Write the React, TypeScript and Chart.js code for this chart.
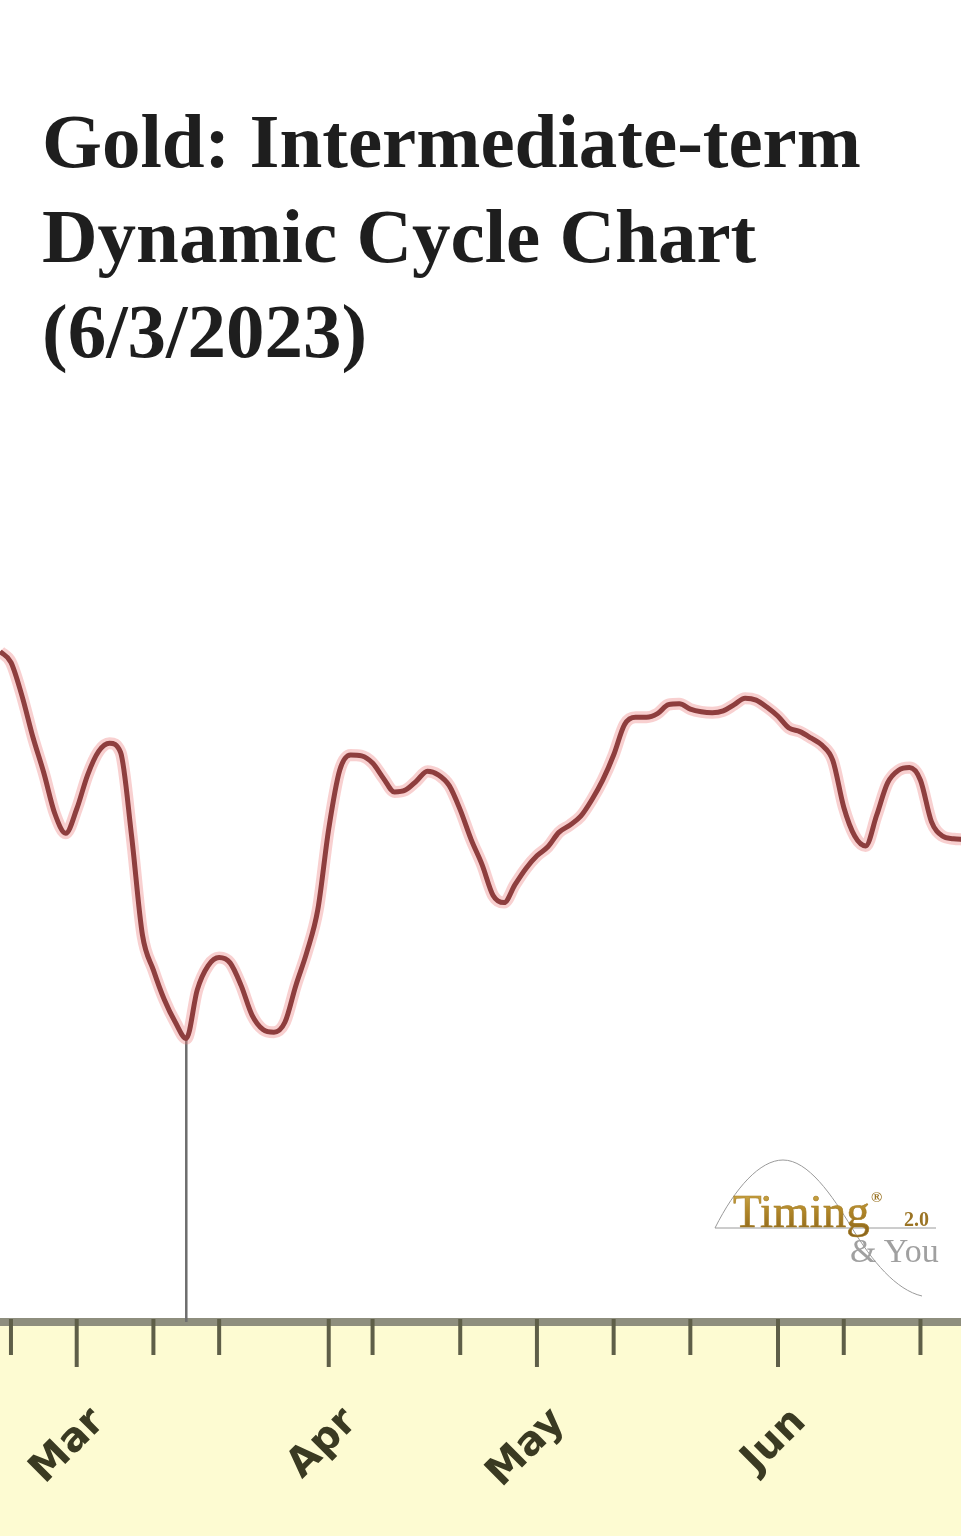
import React, { useEffect, useRef } from 'react';
import { Chart, registerables } from 'chart.js';

Chart.register(...registerables);

const TITLE_LINES = ['Gold: Intermediate-term', 'Dynamic Cycle Chart', '(6/3/2023)'];

// trading-day index (0 = 1 Mar 2023)
const tradingDays = [
  -7, -6, -5, -4, -3, -2, -1, 0, 1, 2, 3, 4, 5, 6, 7, 8, 9, 10, 11, 12, 13, 14,
  15, 16, 17, 18, 19, 20, 21, 22, 23, 24, 25, 26, 27, 28, 29, 30, 31, 32, 33, 34,
  35, 36, 37, 38, 39, 40, 41, 42, 43, 44, 45, 46, 47, 48, 49, 50, 51, 52, 53, 54,
  55, 56, 57, 58, 59, 60, 61, 62, 63, 64, 65, 66, 67, 68, 69, 70, 71, 72, 73, 74,
  75, 76, 77, 78, 79, 80, 81,
];

const cycleValues = [
  74.5, 73.3, 69.6, 65.0, 61.0, 56.5, 54.3, 57.0, 60.8, 63.4, 64.3, 63.3, 54.1, 43.0,
  39.1, 35.8, 33.3, 31.5, 36.9, 39.6, 40.5, 39.9, 37.4, 34.1, 32.5, 32.2, 33.3, 37.4,
  41.1, 45.8, 54.8, 61.3, 63.0, 62.9, 62.1, 60.4, 58.9, 59.1, 60.1, 61.2, 60.8, 59.6,
  56.9, 53.6, 50.8, 47.4, 46.6, 48.6, 50.4, 51.8, 52.8, 54.4, 55.2, 56.2, 58.0, 60.2,
  63.0, 66.4, 67.2, 67.2, 67.6, 68.6, 68.7, 68.1, 67.8, 67.7, 67.9, 68.6, 69.3, 69.1,
  68.3, 67.3, 66.0, 65.6, 64.9, 64.1, 62.4, 57.2, 54.0, 52.9, 56.3, 59.9, 61.3, 61.6,
  60.2, 55.6, 54.0, 53.7, 53.6,
];

// axis ticks: 1st, ~10th and ~20th of each month (trading-day index)
const tickDays = [-6, 0, 7, 13, 23, 27, 35, 42, 49, 56, 64, 70, 77];
const monthTickDays = [0, 23, 42, 64];
const monthLabels = ['Mar', 'Apr', 'May', 'Jun'];
const cycleLowDay = 10;

const tickMarks = {
  id: 'tickMarks',
  afterDatasetsDraw(chart: any) {
    const s = chart.scales.x;
    const ctx = chart.ctx;
    ctx.save();
    ctx.strokeStyle = '#5e5e48';
    ctx.lineWidth = 4;
    s.ticks.forEach((t: any) => {
      const px = s.getPixelForValue(t.value);
      const len = t.major ? 45 : 33;
      ctx.beginPath();
      ctx.moveTo(px, s.top - 3);
      ctx.lineTo(px, s.top + len);
      ctx.stroke();
    });
    ctx.restore();
  },
};

function Logo() {
  return (
    <svg
      width={261}
      height={150}
      viewBox="0 0 261 150"
      style={{ position: 'absolute', left: 700, top: 1150 }}
    >
      <defs>
        <linearGradient id="gold" x1="0" y1="0" x2="0" y2="1">
          <stop offset="0" stopColor="#d6b454" />
          <stop offset="0.5" stopColor="#b08628" />
          <stop offset="1" stopColor="#86601a" />
        </linearGradient>
      </defs>
      <line x1={15} y1={78} x2={236} y2={78} stroke="#9a9a9a" strokeWidth={1} />
      <path
        d="M15,78 C35,38 60,10 83,10 C108,10 132,45 152,78 C172,111 196,140 222,146"
        fill="none"
        stroke="#9a9a9a"
        strokeWidth={1}
      />
      <text x={33} y={77} fontFamily="Liberation Serif" fontSize={47} fill="url(#gold)" stroke="#a57d25" strokeWidth={0.6}>
        Timing
      </text>
      <text x={171} y={52} fontFamily="Liberation Serif" fontSize={15} fontWeight="bold" fill="#9b7424">
        ®
      </text>
      <text x={204} y={76} fontFamily="Liberation Serif" fontSize={20} fontWeight="bold" fill="#9b7424">
        2.0
      </text>
      <text x={150} y={112} fontFamily="Liberation Serif" fontSize={34} fill="#a0a0a0">
        &amp; You
      </text>
    </svg>
  );
}

export default function App() {
  const ref = useRef<HTMLCanvasElement | null>(null);

  useEffect(() => {
    if (!ref.current) return;
    const points = tradingDays.map((d, i) => ({ x: d, y: cycleValues[i] }));
    const lowVal = cycleValues[tradingDays.indexOf(cycleLowDay)];
    const chart = new Chart(ref.current, {
      type: 'line',
      data: {
        datasets: [
          {
            label: 'low',
            data: [
              { x: cycleLowDay, y: lowVal },
              { x: cycleLowDay, y: 0 },
            ],
            borderColor: '#6e6e6e',
            borderWidth: 2.5,
            pointRadius: 0,
            order: 3,
          },
          {
            label: 'glow',
            data: points,
            borderColor: 'rgba(236,120,120,0.35)',
            borderWidth: 12,
            pointRadius: 0,
            cubicInterpolationMode: 'monotone',
            order: 2,
          },
          {
            label: 'cycle',
            data: points,
            borderColor: '#8e3e3e',
            borderWidth: 5,
            pointRadius: 0,
            cubicInterpolationMode: 'monotone',
            order: 1,
          },
        ],
      },
      options: {
        animation: false,
        responsive: true,
        maintainAspectRatio: false,
        layout: { autoPadding: false, padding: { top: 422, left: 0, right: 0, bottom: 0 } },
        plugins: {
          legend: { display: false },
          tooltip: { enabled: false },
          title: { display: false },
        },
        scales: {
          x: {
            type: 'linear',
            min: -7,
            max: 80.7,
            afterBuildTicks: (s: any) => {
              s.ticks = tickDays.map((v) => ({ value: v, major: monthTickDays.includes(v) }));
            },
            afterFit: (s: any) => {
              s.height = 214;
              s.paddingLeft = 0;
              s.paddingRight = 0;
            },
            grid: {
              drawOnChartArea: false,
              drawTicks: true,
              tickLength: 45,
              tickColor: 'rgba(0,0,0,0)',
            },
            border: { display: true, color: '#8e8e7e', width: 8 },
            ticks: {
              autoSkip: false,
              maxRotation: 45,
              minRotation: 45,
              padding: 32,
              labelOffset: 22,
              color: '#3a3a22',
              font: { family: 'DejaVu Sans', weight: 'bold', size: 40 },
              callback: (v: any) => {
                const k = monthTickDays.indexOf(Number(v));
                return k >= 0 ? monthLabels[k] : '';
              },
            },
          },
          y: { display: false, min: 0, max: 100 },
        },
      },
      plugins: [tickMarks],
    } as any);
    return () => chart.destroy();
  }, []);

  return (
    <div
      style={{
        position: 'absolute',
        left: 0,
        top: 0,
        width: 961,
        height: 1536,
        overflow: 'hidden',
        background: 'linear-gradient(to bottom, #ffffff 0px, #ffffff 1322px, #fdfbd2 1322px, #fdfbd2 1536px)',
      }}
    >
      <canvas ref={ref} style={{ position: 'absolute', left: 0, top: 0 }} />
      <div
        style={{
          position: 'absolute',
          left: 42,
          top: 94,
          fontFamily: 'Liberation Serif',
          fontWeight: 'bold',
          fontSize: 77,
          lineHeight: '95px',
          color: '#1e1e1e',
          whiteSpace: 'pre',
        }}
      >
        {TITLE_LINES.join('\n')}
      </div>
      <Logo />
    </div>
  );
}
